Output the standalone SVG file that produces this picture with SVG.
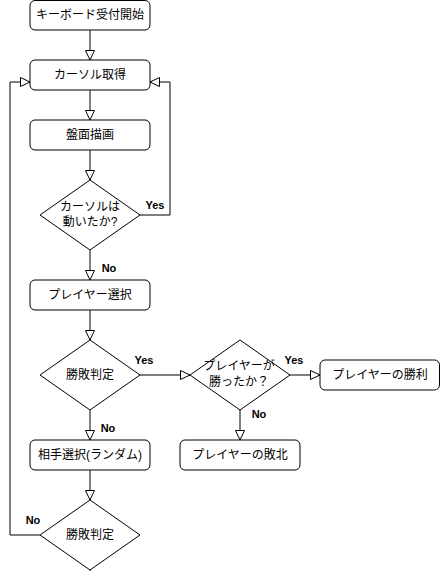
<svg xmlns="http://www.w3.org/2000/svg" width="440" height="571" viewBox="0 0 440 571">
<style>
.n{fill:#fff;stroke:#000;stroke-width:1}
.t{font-family:"Liberation Sans","Noto Sans CJK JP",sans-serif;font-size:12px;fill:#000;text-anchor:middle;dominant-baseline:central}
.l{font-family:"Liberation Sans","Noto Sans CJK JP",sans-serif;font-size:11px;font-weight:bold;fill:#000;text-anchor:middle;dominant-baseline:central}
.e{fill:none;stroke:#000;stroke-width:1;marker-end:url(#a)}
</style>
<defs>
<marker id="a" markerUnits="userSpaceOnUse" markerWidth="12" markerHeight="12" viewBox="0 0 12 12" refX="10.5" refY="6" orient="auto">
<path d="M1,1.5 L10.5,6 L1,10.5 Z" fill="#fff" stroke="#000" stroke-width="1"/>
</marker>
</defs>
<rect width="440" height="571" fill="#fff"/>
<g id="edges">
<path class="e" d="M90,30 V60"/>
<path class="e" d="M90,90 V120"/>
<path class="e" d="M90,150 V180"/>
<path class="e" d="M140,215 H170 V82 H150"/>
<path class="e" d="M90,250 V280"/>
<path class="e" d="M90,310 V340"/>
<path class="e" d="M140,375 H190"/>
<path class="e" d="M290,375 H320"/>
<path class="e" d="M240,410 V440"/>
<path class="e" d="M90,410 V440"/>
<path class="e" d="M90,470 V500"/>
<path class="e" d="M40,535 H10 V82 H30"/>
<path fill="none" stroke="#000" d="M90,570 V580"/>
<text class="l" x="155" y="205">Yes</text>
<text class="l" x="109" y="268">No</text>
<text class="l" x="144" y="360">Yes</text>
<text class="l" x="294" y="360">Yes</text>
<text class="l" x="259" y="414">No</text>
<text class="l" x="108" y="428">No</text>
<text class="l" x="33" y="520">No</text>
</g>
<g id="start"><rect class="n" x="30" y="0.5" width="120" height="29.5" rx="5"/><text class="t" x="90" y="15">キーボード受付開始</text></g>
<g id="cursor"><rect class="n" x="30" y="60" width="120" height="30" rx="5"/><text class="t" x="90" y="75">カーソル取得</text></g>
<g id="draw"><rect class="n" x="30" y="120" width="120" height="30" rx="5"/><text class="t" x="90" y="135">盤面描画</text></g>
<g id="moved"><path class="n" d="M90,180 L140,215 L90,250 L40,215 Z"/><text class="t" x="90" y="207">カーソルは</text><text class="t" x="90" y="222">動いたか?</text></g>
<g id="select"><rect class="n" x="30" y="280" width="120" height="30" rx="5"/><text class="t" x="90" y="295">プレイヤー選択</text></g>
<g id="judge1"><path class="n" d="M90,340 L140,375 L90,410 L40,375 Z"/><text class="t" x="90" y="375">勝敗判定</text></g>
<g id="won"><path class="n" d="M240,340 L290,375 L240,410 L190,375 Z"/><text class="t" x="239" y="366">プレイヤーが</text><text class="t" x="239" y="382">勝ったか？</text></g>
<g id="win"><rect class="n" x="320" y="360" width="119.5" height="30" rx="5"/><text class="t" x="380" y="375">プレイヤーの勝利</text></g>
<g id="lose"><rect class="n" x="180" y="440" width="120" height="30" rx="5"/><text class="t" x="240" y="455">プレイヤーの敗北</text></g>
<g id="opponent"><rect class="n" x="30" y="440" width="120" height="30" rx="5"/><text class="t" x="90" y="455">相手選択(ランダム)</text></g>
<g id="judge2"><path class="n" d="M90,500 L140,535 L90,570 L40,535 Z"/><text class="t" x="90" y="535">勝敗判定</text></g>
</svg>
